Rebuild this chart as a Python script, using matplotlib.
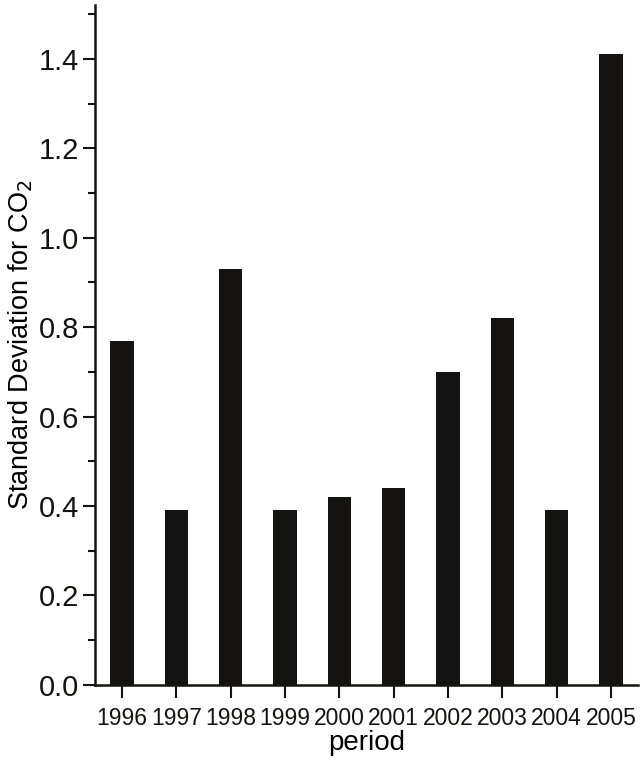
import matplotlib
matplotlib.use('Agg')
import numpy as np
from matplotlib import pyplot as plt
from matplotlib.ticker import MultipleLocator

plt.rcParams['font.family'] = ['Liberation Sans', 'DejaVu Sans']

years = ['1996', '1997', '1998', '1999', '2000', '2001', '2002', '2003', '2004', '2005']
std_co2 = [0.77, 0.39, 0.93, 0.39, 0.42, 0.44, 0.70, 0.82, 0.39, 1.41]

fig = plt.figure(figsize=(6.4, 7.6), dpi=100)
ax = fig.add_axes([0.148, 0.099, 0.849, 0.894])

x = np.arange(len(years))
ax.bar(x, std_co2, width=0.43, color='#151311')

ax.set_xlim(-0.5, len(years) - 0.5)
ax.set_ylim(0, 1.52)
ax.set_xticks(x)
ax.set_xticklabels(years, fontsize=16.5)
ax.yaxis.set_major_locator(MultipleLocator(0.2))
ax.yaxis.set_minor_locator(MultipleLocator(0.1))
ax.set_yticklabels([f'{v:.1f}' for v in ax.get_yticks()], fontsize=21)

for side in ['top', 'right']:
    ax.spines[side].set_visible(False)
for side in ['left', 'bottom']:
    ax.spines[side].set_linewidth(1.8)
    ax.spines[side].set_color('#151311')

ax.tick_params(axis='y', which='major', direction='out', length=9, width=1.5, pad=2, colors='#151311')
ax.tick_params(axis='y', which='minor', direction='out', length=5, width=1.5, colors='#151311')
ax.tick_params(axis='x', which='major', direction='out', length=9, width=1.5, pad=7, colors='#151311')

ax.set_ylabel('Standard Deviation for CO$_2$', fontsize=19.5, labelpad=3)
ax.set_xlabel('period', fontsize=20, labelpad=0)

fig.savefig('out.png', dpi=100)
